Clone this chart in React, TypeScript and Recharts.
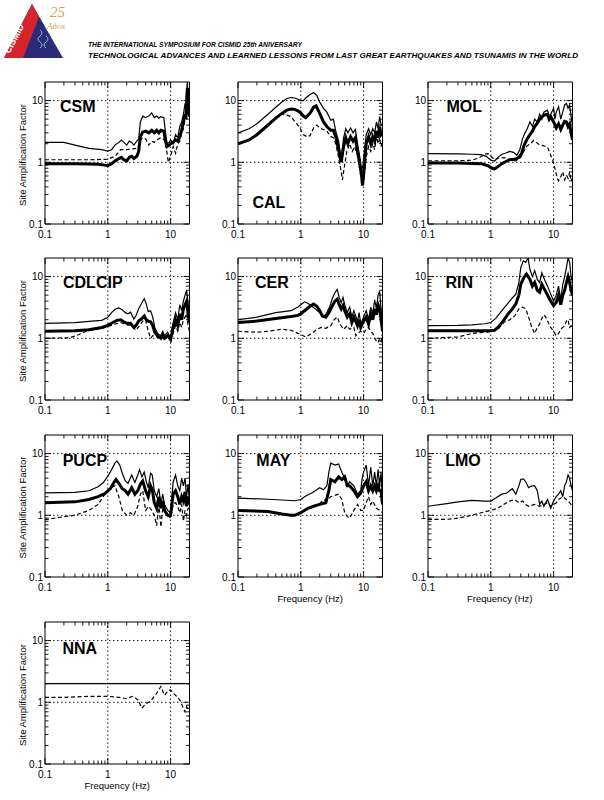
import React from 'react';
import { LineChart, Line, XAxis, YAxis, ReferenceLine } from 'recharts';

type Pt = [number, number];

// log axes, 0.1 .. 20 on both
const DOMAIN: [number, number] = [0.1, 20];
const MAJOR = [0.1, 1, 10];
const TICKS = [0.1, 0.2, 0.3, 0.4, 0.5, 0.6, 0.7, 0.8, 0.9, 1, 2, 3, 4, 5, 6, 7, 8, 9, 10];
const GRID = [1, 10];

// [frequency Hz, amplification]
const csmThin: Pt[] = [[0.1,2.1],[0.2,2.1],[0.3,1.9],[0.5,1.68],[0.8,1.6],[1.0,1.52],[1.15,1.6],[1.3,1.9],[1.5,2.1],[1.65,2.3],[1.8,2.1],[2.0,1.9],[2.2,2.2],[2.4,2.1],[2.6,1.9],[2.9,2.2],[3.1,2.4],[3.3,4.5],[3.6,5.6],[4.0,5.3],[4.5,5.6],[5.0,6.3],[5.5,5.3],[6.0,5.6],[6.5,5.2],[7.0,5.5],[7.8,5.3],[8.3,3.0],[8.8,2.0],[9.5,2.1],[10,2.3],[11,2.0],[12,2.8],[13,2.5],[14,3.8],[15,4.5],[16,6],[17,9],[17.5,7],[18,14],[18.5,20],[19,12],[19.5,9],[20,7]];
const csmThick: Pt[] = [[0.1,0.95],[0.3,0.95],[0.5,0.94],[0.7,0.93],[0.9,0.9],[1.0,0.88],[1.15,0.95],[1.3,1.05],[1.5,1.15],[1.65,1.2],[1.8,1.1],[2.0,1.05],[2.2,1.2],[2.4,1.25],[2.6,1.15],[2.9,1.25],[3.1,1.5],[3.3,2.6],[3.6,3.1],[4.0,3.2],[4.5,3.0],[5.0,3.3],[5.5,3.0],[6.0,3.3],[6.5,3.0],[7.0,3.3],[7.8,3.2],[8.3,2.2],[8.8,1.8],[9.5,1.9],[10,2.0],[11,2.1],[12,2.3],[13,2.2],[14,2.6],[15,3.3],[16,4.5],[17,6],[17.5,5],[18,10],[18.5,16],[19,9],[19.5,7],[20,5.5]];
const csmDash: Pt[] = [[0.1,1.1],[0.5,1.1],[1.0,1.12],[1.3,1.25],[1.6,1.6],[2.0,1.6],[2.5,1.65],[3.0,1.7],[3.3,2.3],[3.6,2.5],[4.0,2.4],[4.5,1.9],[5.0,2.2],[5.5,2.1],[6.0,2.3],[7.0,2.5],[8.0,2.3],[8.6,1.6],[9.2,1.0],[9.8,1.2],[10.5,1.5],[11,1.8],[12,1.4],[13,2.0],[14,2.2],[15,3.0],[16,3.5],[17,5],[18,8],[19,6],[20,5.5]];

const calThin: Pt[] = [[0.1,3.0],[0.15,3.5],[0.2,4.2],[0.3,6.0],[0.4,7.8],[0.5,9.5],[0.6,10.8],[0.7,11.2],[0.8,11],[0.9,10.5],[1.0,10],[1.1,10],[1.2,11],[1.4,12.5],[1.6,13.5],[1.8,12],[2.0,9.5],[2.3,7.5],[2.6,6.5],[3.0,4.8],[3.3,5.0],[3.6,3.2],[4.0,2.2],[4.4,1.1],[4.8,2.5],[5.2,3.5],[5.6,3.0],[6.2,3.6],[6.8,3.0],[7.4,3.4],[8.0,2.0],[8.6,1.3],[9.3,0.75],[9.8,0.9],[10.5,1.8],[11,2.8],[12,3.5],[13,2.8],[14,3.5],[15,3.0],[16,4.5],[17,3.5],[18,5.5],[19,4],[20,4.2]];
const calThick: Pt[] = [[0.1,2.0],[0.15,2.3],[0.2,2.8],[0.3,4.0],[0.4,5.2],[0.5,6.2],[0.6,7.0],[0.7,7.3],[0.8,7.2],[0.9,6.8],[1.0,6.3],[1.1,5.6],[1.2,5.3],[1.4,6.2],[1.6,7.8],[1.75,8.2],[2.0,6.2],[2.3,4.5],[2.6,3.8],[3.0,3.3],[3.3,3.3],[3.6,2.6],[4.0,1.6],[4.4,1.0],[4.8,1.8],[5.2,2.5],[5.6,2.0],[6.2,2.6],[6.8,2.2],[7.4,2.5],[8.0,1.5],[8.6,1.0],[9.3,0.6],[9.6,0.42],[10,0.6],[10.5,1.2],[11,2.0],[12,2.6],[13,2.0],[14,2.6],[15,2.2],[16,3.2],[17,2.5],[18,3.8],[19,2.8],[20,3.0]];
const calDash: Pt[] = [[0.1,2.0],[0.15,2.3],[0.2,2.9],[0.3,4.2],[0.4,5.4],[0.5,6.0],[0.6,5.8],[0.7,5.5],[0.8,4.6],[0.9,4.0],[1.0,3.4],[1.1,2.8],[1.25,2.6],[1.4,2.7],[1.6,3.6],[1.8,4.0],[2.0,3.6],[2.3,3.4],[2.6,3.2],[3.0,2.6],[3.3,2.5],[3.6,2.0],[4.0,1.2],[4.4,0.7],[4.6,0.52],[4.9,0.8],[5.4,1.5],[6.0,2.0],[6.6,1.5],[7.2,1.8],[8.0,1.3],[8.6,0.8],[9.3,0.5],[9.8,0.45],[10.4,0.7],[11,1.2],[12,1.8],[13,1.5],[14,2.0],[15,1.6],[16,2.6],[17,2.0],[18,2.5],[19,1.8],[20,2.2]];

const molThin: Pt[] = [[0.1,1.38],[0.3,1.37],[0.5,1.35],[0.7,1.33],[0.85,1.25],[1.0,1.08],[1.15,1.05],[1.3,1.2],[1.5,1.35],[1.7,1.4],[2.0,1.5],[2.3,1.45],[2.6,1.3],[2.9,1.6],[3.2,2.4],[3.5,3.0],[3.8,3.5],[4.2,4.5],[4.6,3.8],[5.0,5.0],[5.5,4.5],[6.0,6.0],[6.5,5.0],[7.0,6.5],[8.0,7.0],[8.5,5.5],[9.0,6.0],[10,7.5],[10.5,5.0],[11,6.5],[12,8.0],[13,5.0],[14,6.5],[15,8.5],[16,9.0],[17,7.5],[18,8.5],[19,5.5],[20,4.0]];
const molThick: Pt[] = [[0.1,0.97],[0.3,0.97],[0.5,0.96],[0.7,0.95],[0.9,0.88],[1.05,0.8],[1.15,0.78],[1.3,0.85],[1.5,0.95],[1.8,1.05],[2.0,1.1],[2.4,1.12],[2.8,1.2],[3.1,1.4],[3.4,1.9],[3.8,2.4],[4.2,2.8],[4.6,3.2],[5.0,3.8],[5.5,4.3],[6.0,5.0],[7.0,5.8],[8.0,6.0],[8.5,5.0],[9.0,5.5],[10,4.5],[11,3.6],[12,4.2],[13,3.4],[14,4.0],[15,4.6],[16,4.5],[17,3.8],[18,4.2],[19,3.0],[20,2.3]];
const molDash: Pt[] = [[0.1,1.06],[0.3,1.06],[0.5,1.08],[0.65,1.18],[0.8,1.35],[0.9,1.38],[1.0,1.25],[1.15,1.1],[1.4,1.2],[1.7,1.18],[2.0,1.1],[2.5,1.05],[3.0,1.2],[3.4,1.55],[3.8,1.85],[4.3,2.0],[4.8,2.25],[5.3,2.1],[6.0,1.9],[7.0,1.85],[8.0,1.75],[9.0,1.3],[9.8,1.05],[10.5,0.8],[11,0.65],[11.5,0.55],[12,0.5],[13,0.58],[14,0.7],[15,0.52],[16,0.62],[17,0.55],[18,0.7],[19,0.5],[20,0.55]];

const cdlThin: Pt[] = [[0.1,1.75],[0.3,1.8],[0.5,1.88],[0.8,1.95],[1.0,2.2],[1.15,2.6],[1.3,2.95],[1.5,3.1],[1.7,2.9],[1.9,2.6],[2.1,2.5],[2.3,2.65],[2.6,2.05],[2.8,2.3],[3.1,3.0],[3.4,3.6],[3.8,4.4],[4.1,3.6],[4.4,2.7],[4.8,2.8],[5.2,2.2],[5.6,1.5],[6.2,1.2],[7.0,1.1],[7.5,1.3],[8.0,1.1],[9.0,1.25],[10,1.0],[10.5,1.4],[11,1.8],[12,2.6],[13,2.0],[14,3.5],[15,2.8],[16,4.0],[17,5.0],[18,6.0],[19,3.5],[20,2.5]];
const cdlThick: Pt[] = [[0.1,1.3],[0.3,1.32],[0.5,1.38],[0.8,1.5],[1.0,1.62],[1.2,1.8],[1.4,1.95],[1.6,2.0],[1.8,1.85],[2.0,1.75],[2.3,1.75],[2.6,1.5],[2.8,1.6],[3.1,1.9],[3.5,2.1],[3.8,2.3],[4.1,2.0],[4.4,1.9],[4.8,1.85],[5.2,1.6],[5.6,1.25],[6.2,1.1],[7.0,1.0],[7.5,1.15],[8.0,1.0],[9.0,1.1],[10,0.95],[10.5,1.2],[11,1.5],[12,2.0],[13,1.6],[14,2.5],[15,2.0],[16,3.0],[17,3.5],[18,4.0],[19,2.5],[20,1.8]];
const cdlDash: Pt[] = [[0.1,1.0],[0.25,1.02],[0.35,1.15],[0.45,1.3],[0.8,1.45],[1.0,1.55],[1.3,1.7],[1.6,1.8],[2.0,1.65],[2.4,1.6],[2.8,1.35],[3.2,1.6],[3.6,1.9],[4.0,2.0],[4.4,1.3],[4.8,1.0],[5.2,1.1],[6.0,1.05],[7.0,1.0],[8.0,1.05],[9.0,1.0],[10,0.98],[11,1.2],[12,1.6],[13,1.3],[14,1.8],[15,1.5],[16,2.0],[17,2.2],[18,2.5],[19,1.6],[20,1.3]];

const cerThin: Pt[] = [[0.1,2.0],[0.2,2.2],[0.4,2.6],[0.7,2.8],[0.9,3.2],[1.0,3.5],[1.15,3.9],[1.3,3.7],[1.5,3.3],[1.7,3.0],[2.0,2.6],[2.3,2.2],[2.6,2.6],[2.9,3.3],[3.2,4.5],[3.5,5.5],[3.8,6.2],[4.1,4.5],[4.4,3.8],[4.7,4.6],[5.0,3.5],[5.5,2.6],[6.0,3.2],[6.5,2.2],[7.0,2.8],[8.0,1.9],[8.5,2.6],[9.0,1.7],[10,2.2],[11,2.8],[12,2.0],[13,3.2],[14,2.5],[15,4.2],[16,3.0],[17,5.0],[18,5.8],[19,3.0],[20,1.3]];
const cerThick: Pt[] = [[0.1,1.8],[0.2,1.9],[0.4,2.1],[0.7,2.25],[0.9,2.35],[1.0,2.5],[1.2,2.9],[1.4,3.3],[1.6,3.6],[1.8,3.3],[2.0,2.8],[2.2,2.3],[2.5,2.2],[2.8,2.6],[3.2,3.4],[3.5,4.0],[3.8,4.3],[4.1,3.5],[4.4,3.0],[4.7,3.4],[5.0,2.8],[5.5,2.2],[6.0,2.5],[6.5,1.8],[7.0,2.2],[8.0,1.6],[8.5,2.0],[9.0,1.5],[10,1.9],[11,2.2],[12,1.7],[13,2.5],[14,2.0],[15,3.0],[16,2.4],[17,3.5],[18,3.0],[19,2.0],[20,1.3]];
const cerDash: Pt[] = [[0.1,1.3],[0.2,1.25],[0.3,1.3],[0.5,1.4],[0.7,1.35],[0.9,1.2],[1.0,1.15],[1.2,1.05],[1.5,1.2],[1.8,1.4],[2.1,1.5],[2.5,1.45],[3.0,1.6],[3.4,2.0],[3.8,2.2],[4.2,1.7],[4.8,1.4],[5.5,1.6],[6.0,1.4],[7.0,1.5],[7.5,1.1],[8.0,1.2],[9.0,1.3],[10,1.2],[11,1.4],[12,1.5],[13,1.3],[14,1.2],[15,1.0],[16,0.9],[17,0.85],[18,1.0],[19,0.9],[20,1.2]];

const rinThin: Pt[] = [[0.1,1.6],[0.3,1.62],[0.5,1.65],[0.8,1.72],[1.0,1.8],[1.2,2.1],[1.5,2.8],[1.8,3.5],[2.2,4.5],[2.5,5.2],[2.8,8],[3.0,14],[3.3,18],[3.6,17],[3.9,20],[4.2,13],[4.6,10],[5.0,12.5],[5.5,9],[6.0,8],[6.5,11.5],[7.0,9.5],[8.0,7],[9.0,5.2],[10,4.0],[11,5.0],[12,7.0],[13,4.2],[14,7.5],[15,10],[16,14],[17,20],[18,17],[19,10],[20,8]];
const rinThick: Pt[] = [[0.1,1.33],[0.5,1.33],[1.0,1.33],[1.15,1.35],[1.3,1.5],[1.6,1.95],[1.9,2.5],[2.2,3.0],[2.5,3.6],[2.8,5.0],[3.0,7.5],[3.4,9.8],[3.7,11],[4.2,9],[4.6,7],[5.0,8],[5.5,6],[6.0,5.6],[6.5,7.5],[7.0,6.5],[8.0,5.0],[9.0,4.0],[10,3.4],[11,3.8],[12,5.0],[13,3.5],[14,5.0],[15,6.0],[16,8.0],[17,10],[18,8],[19,6],[20,5]];
const rinDash: Pt[] = [[0.1,1.0],[0.3,1.05],[0.5,1.2],[0.8,1.25],[1.0,1.28],[1.3,1.4],[1.6,1.8],[2.0,2.0],[2.4,2.3],[2.8,3.0],[3.2,3.2],[3.6,3.0],[4.0,2.2],[4.5,1.5],[5.0,1.2],[5.5,1.5],[6.0,1.7],[6.5,2.1],[7.0,2.4],[7.5,2.2],[8.0,1.9],[9.0,1.5],[10,1.3],[11,1.1],[12,1.2],[13,1.4],[14,1.5],[15,1.6],[16,1.9],[17,2.0],[18,1.5],[19,1.6],[20,1.5]];

const pucpThin: Pt[] = [[0.1,2.3],[0.3,2.35],[0.5,2.5],[0.7,2.9],[0.85,3.4],[1.0,4.3],[1.15,5.5],[1.3,7.0],[1.4,7.6],[1.55,6.5],[1.7,4.8],[1.9,3.6],[2.1,3.3],[2.4,4.5],[2.7,3.4],[3.0,4.5],[3.2,5.5],[3.5,4.2],[3.8,5.0],[4.1,3.5],[4.4,2.8],[4.8,4.8],[5.1,4.5],[5.5,2.5],[6.0,2.0],[6.5,2.7],[7.0,1.5],[7.5,2.2],[8.0,1.5],[9.0,1.2],[10,1.1],[10.5,2.0],[11,3.5],[12,4.5],[13,3.0],[14,2.5],[15,4.0],[16,3.0],[17,4.0],[18,2.0],[19,3.2],[20,1.5]];
const pucpThick: Pt[] = [[0.1,1.6],[0.3,1.65],[0.5,1.8],[0.7,2.0],[0.9,2.25],[1.1,2.7],[1.25,3.4],[1.35,3.8],[1.5,3.3],[1.7,2.7],[1.9,2.5],[2.1,2.2],[2.4,2.8],[2.7,2.2],[3.0,2.5],[3.3,3.2],[3.6,3.6],[4.0,2.5],[4.4,2.0],[4.8,3.0],[5.1,2.6],[5.5,1.6],[6.0,1.3],[6.5,2.0],[7.0,1.3],[7.5,1.7],[8.0,1.2],[9.0,1.0],[10,1.0],[10.5,1.5],[11,2.2],[12,2.5],[13,2.0],[14,1.5],[15,2.0],[16,1.7],[17,2.4],[18,1.4],[19,2.0],[20,1.5]];
const pucpDash: Pt[] = [[0.1,0.85],[0.2,0.95],[0.3,1.0],[0.5,1.2],[0.7,1.5],[0.9,2.2],[1.1,2.8],[1.3,3.0],[1.5,2.0],[1.7,1.2],[2.0,1.0],[2.3,1.1],[2.6,1.0],[3.0,1.4],[3.3,2.2],[3.6,2.5],[4.0,1.2],[4.5,1.4],[5.0,1.2],[5.5,1.0],[6.0,0.68],[6.5,1.5],[7.0,0.65],[7.5,1.3],[8.0,1.2],[9.0,1.0],[10,0.9],[11,1.5],[12,1.6],[13,1.4],[14,1.1],[15,1.5],[16,0.8],[17,1.2],[18,1.0],[19,1.3],[20,1.3]];

const mayThin: Pt[] = [[0.1,1.9],[0.3,1.82],[0.5,1.77],[0.8,1.72],[1.0,1.8],[1.2,2.05],[1.5,2.3],[1.8,2.6],[2.0,2.8],[2.3,2.6],[2.6,3.0],[2.8,5.0],[3.0,7.0],[3.5,6.5],[4.0,6.8],[4.5,5.0],[5.0,4.0],[5.5,3.0],[6.0,3.5],[7.0,3.0],[8.0,2.2],[9.0,2.5],[9.5,4.0],[10,5.0],[11,6.5],[12,3.0],[13,6.0],[14,3.0],[15,5.0],[16,3.0],[17,5.5],[18,3.0],[19,5.0],[20,1.5]];
const mayThick: Pt[] = [[0.1,1.2],[0.3,1.15],[0.5,1.05],[0.7,1.0],[0.8,1.0],[1.0,1.1],[1.3,1.3],[1.6,1.4],[2.0,1.5],[2.5,1.6],[2.8,2.5],[3.0,3.8],[3.5,3.5],[4.0,4.2],[4.5,3.8],[5.0,4.2],[5.5,3.0],[6.0,3.0],[7.0,2.5],[8.0,2.0],[9.0,2.3],[10,3.0],[11,3.5],[12,2.5],[13,3.0],[14,2.5],[15,3.0],[16,2.5],[17,3.0],[18,2.5],[19,2.5],[20,1.5]];
const mayDash: Pt[] = [[0.1,1.2],[0.3,1.15],[0.5,1.05],[0.7,1.0],[0.8,1.0],[1.0,1.1],[1.3,1.3],[1.6,1.4],[2.0,1.55],[2.3,1.8],[2.6,1.7],[3.0,2.0],[3.5,2.1],[4.0,2.2],[4.5,1.8],[5.0,1.1],[5.5,0.95],[6.0,0.9],[7.0,1.2],[8.0,1.5],[9.0,1.2],[10,1.2],[11,1.6],[12,2.0],[13,1.5],[14,1.7],[16,1.3],[18,1.2],[20,1.1]];

const lmoThin: Pt[] = [[0.1,1.4],[0.2,1.55],[0.3,1.65],[0.5,1.75],[0.8,1.7],[1.0,1.7],[1.2,1.9],[1.5,2.2],[1.8,2.3],[2.2,2.7],[2.5,2.2],[2.8,3.0],[3.0,3.8],[3.3,3.9],[3.6,3.5],[4.0,2.8],[4.5,3.0],[5.0,3.0],[5.5,2.5],[6.0,1.5],[6.5,1.7],[7.0,1.4],[8.0,1.8],[9.0,1.3],[10,1.7],[11,2.0],[12,2.2],[13,2.5],[14,2.0],[15,3.0],[16,3.5],[17,4.5],[18,4.0],[19,3.0],[20,2.5]];
const lmoDash: Pt[] = [[0.1,0.86],[0.2,0.86],[0.3,0.9],[0.5,1.0],[0.7,1.1],[1.0,1.2],[1.3,1.3],[1.6,1.5],[2.0,1.7],[2.4,1.8],[2.8,1.6],[3.2,1.7],[3.6,1.5],[4.0,1.4],[5.0,1.5],[6.0,1.4],[7.0,1.5],[8.0,1.6],[9.0,1.4],[10,1.5],[11,1.6],[12,1.8],[14,2.0],[16,1.8],[18,1.6],[20,1.4]];

const nnaThin: Pt[] = [[0.1,2.0],[20,2.0]];
const nnaDash: Pt[] = [[0.1,1.2],[0.2,1.2],[0.5,1.25],[1.0,1.25],[1.5,1.2],[2.0,1.15],[2.5,1.25],[3.0,1.1],[3.5,0.8],[4.0,0.95],[4.5,1.0],[5.0,1.1],[6.0,1.4],[7.0,1.8],[8.0,1.3],[9.0,1.5],[10,1.6],[11,1.4],[12,1.3],[14,1.1],[16,0.8],[17,0.7],[18,0.85],[19,0.75],[20,0.8]];

// page layout of the plot boxes
const COL_X = [45, 238, 427.5];
const ROW_Y = [82, 258, 434.5, 622];
const PW = 144.5;
const PH = 142;
// outer padding around the plot box; each axis eats 1px of it
const PAD = { top: 20, right: 40, bottom: 30, left: 40 };
const M = { top: PAD.top - 1, right: PAD.right - 1, bottom: PAD.bottom - 1, left: PAD.left - 1 };

const FONT = '"Liberation Sans", Arial, Helvetica, sans-serif';

const PANELS = [
  { name: 'CSM', col: 0, row: 0, thin: csmThin, thick: csmThick, dash: csmDash, lx: 15, ly: 30, yTitle: true, xTitle: false },
  { name: 'CAL', col: 1, row: 0, thin: calThin, thick: calThick, dash: calDash, lx: 14.5, ly: 125.7, yTitle: false, xTitle: false },
  { name: 'MOL', col: 2, row: 0, thin: molThin, thick: molThick, dash: molDash, lx: 19, ly: 30, yTitle: false, xTitle: false },
  { name: 'CDLCIP', col: 0, row: 1, thin: cdlThin, thick: cdlThick, dash: cdlDash, lx: 18, ly: 30, yTitle: true, xTitle: false },
  { name: 'CER', col: 1, row: 1, thin: cerThin, thick: cerThick, dash: cerDash, lx: 17, ly: 30, yTitle: false, xTitle: false },
  { name: 'RIN', col: 2, row: 1, thin: rinThin, thick: rinThick, dash: rinDash, lx: 18, ly: 30, yTitle: false, xTitle: false },
  { name: 'PUCP', col: 0, row: 2, thin: pucpThin, thick: pucpThick, dash: pucpDash, lx: 17.7, ly: 31, yTitle: true, xTitle: false },
  { name: 'MAY', col: 1, row: 2, thin: mayThin, thick: mayThick, dash: mayDash, lx: 18.3, ly: 31, yTitle: false, xTitle: true },
  { name: 'LMO', col: 2, row: 2, thin: lmoThin, thick: null, dash: lmoDash, lx: 17.7, ly: 31, yTitle: false, xTitle: true },
  { name: 'NNA', col: 0, row: 3, thin: nnaThin, thick: null, dash: nnaDash, lx: 17.4, ly: 32, yTitle: true, xTitle: true },
];

const toRows = (pts: Pt[]) => pts.map(([f, v]) => ({ f, v }));

// inward tick marks (major longer), labels only on bottom/left decades
const makeTick = (side: string) => (p: any) => {
  const { x, y, payload } = p;
  const v = payload.value;
  const major = MAJOR.indexOf(v) >= 0;
  const len = major ? 6 : 3.5;
  let x2 = x;
  let y2 = y;
  if (side === 'bottom') y2 = y - len;
  if (side === 'top') y2 = y + len;
  if (side === 'left') x2 = x + len;
  if (side === 'right') x2 = x - len;
  return (
    <g>
      <line x1={x} y1={y} x2={x2} y2={y2} stroke="#000" strokeWidth={0.9} />
      {major && side === 'bottom' && (
        <text x={x} y={y + 13.5} textAnchor="middle" fontSize={10} fontFamily={FONT} fill="#000">{String(v)}</text>
      )}
      {major && side === 'left' && (
        <text x={x - 2} y={y + 3.5} textAnchor="end" fontSize={10} fontFamily={FONT} fill="#000">{String(v)}</text>
      )}
    </g>
  );
};

const axisCommon = {
  type: 'number' as const,
  scale: 'log' as const,
  domain: DOMAIN,
  allowDataOverflow: true,
  ticks: TICKS,
  interval: 0 as const,
  tickSize: 0,
  tickMargin: 0,
  tickLine: false,
  axisLine: { stroke: '#000', strokeWidth: 1 },
};

const Panel = ({ p }: { p: (typeof PANELS)[number] }) => {
  const left = COL_X[p.col] - PAD.left;
  const top = ROW_Y[p.row] - PAD.top;
  return (
    <div style={{ position: 'absolute', left, top }}>
      <LineChart width={PW + PAD.left + PAD.right} height={PH + PAD.top + PAD.bottom} margin={M}>
        <XAxis xAxisId="b" dataKey="f" orientation="bottom" height={1} {...axisCommon} tick={makeTick('bottom')} />
        <XAxis xAxisId="t" dataKey="f" orientation="top" height={1} {...axisCommon} tick={makeTick('top')} />
        <YAxis yAxisId="l" orientation="left" width={1} {...axisCommon} tick={makeTick('left')} />
        <YAxis yAxisId="r" orientation="right" width={1} {...axisCommon} tick={makeTick('right')} />
        {GRID.map((g) => (
          <ReferenceLine key={'gx' + g} xAxisId="b" yAxisId="l" x={g} stroke="#000" strokeWidth={0.9} strokeDasharray="1.5 2.5" />
        ))}
        {GRID.map((g) => (
          <ReferenceLine key={'gy' + g} xAxisId="b" yAxisId="l" y={g} stroke="#000" strokeWidth={0.9} strokeDasharray="1.5 2.5" />
        ))}
        <Line xAxisId="b" yAxisId="l" data={toRows(p.dash)} dataKey="v" type="linear" stroke="#000" strokeWidth={1.2} strokeDasharray="4 2.5" dot={false} isAnimationActive={false} />
        <Line xAxisId="b" yAxisId="l" data={toRows(p.thin)} dataKey="v" type="linear" stroke="#000" strokeWidth={1.2} dot={false} isAnimationActive={false} />
        {p.thick && (
          <Line xAxisId="b" yAxisId="l" data={toRows(p.thick)} dataKey="v" type="linear" stroke="#000" strokeWidth={3} dot={false} isAnimationActive={false} />
        )}
      </LineChart>
    </div>
  );
};

const Overlay = () => (
  <svg width={604} height={800} style={{ position: 'absolute', left: 0, top: 0, pointerEvents: 'none' }}>
    {/* logo */}
    <polygon points="32,4 63,58 4,58" fill="#2c2b78" />
    <polygon points="32,4 4,58 23,58 39,17" fill="#d6242c" />
    <path d="M40,30 q4,3 0,6 q-4,3 0,6 q4,3 0,6 M46,36 q4,3 0,6 q-4,3 0,6" stroke="#9fb4e0" strokeWidth={1} fill="none" />
    <text x={17} y={40} transform="rotate(-62 17 40)" textAnchor="middle" fontSize={9} fontWeight="bold" fontFamily={FONT} fill="#fff">CISMID</text>
    <text x={50} y={17} fontSize={15} fontStyle="italic" fontFamily="serif" fill="#c9a94f">25</text>
    <text x={47} y={29} fontSize={9} fontStyle="italic" fontFamily="serif" fill="#c9a94f">Años</text>
    {/* header */}
    <text x={88} y={46.5} fontSize={7.6} fontWeight="bold" fontStyle="italic" fontFamily={FONT} textLength={214} lengthAdjust="spacingAndGlyphs">THE INTERNATIONAL SYMPOSIUM FOR CISMID 25th ANIVERSARY</text>
    <text x={88} y={57.5} fontSize={7.6} fontWeight="bold" fontStyle="italic" fontFamily={FONT} textLength={490} lengthAdjust="spacingAndGlyphs">TECHNOLOGICAL ADVANCES AND LEARNED LESSONS FROM LAST GREAT EARTHQUAKES AND TSUNAMIS IN THE WORLD</text>
    {PANELS.map((p) => {
      const x0 = COL_X[p.col];
      const y0 = ROW_Y[p.row];
      const cy = y0 + PH / 2 + 2;
      return (
        <g key={p.name}>
          <text x={x0 + p.lx} y={y0 + p.ly} fontSize={16} fontWeight="bold" fontFamily={FONT} fill="#000">{p.name}</text>
          {p.yTitle && (
            <text x={22.7} y={cy} transform={`rotate(-90 22.7 ${cy})`} textAnchor="middle" dominantBaseline="central" fontSize={9.5} fontFamily={FONT} fill="#000">Site Amplification Factor</text>
          )}
          {p.xTitle && (
            <text x={x0 + PW / 2} y={y0 + PH + 25} textAnchor="middle" fontSize={9.5} fontFamily={FONT} fill="#000">Frequency (Hz)</text>
          )}
        </g>
      );
    })}
  </svg>
);

export default function App() {
  return (
    <div style={{ position: 'absolute', left: 0, top: 0, width: 604, height: 800, background: '#fff', fontFamily: FONT }}>
      {PANELS.map((p) => (
        <Panel key={p.name} p={p} />
      ))}
      <Overlay />
    </div>
  );
}
